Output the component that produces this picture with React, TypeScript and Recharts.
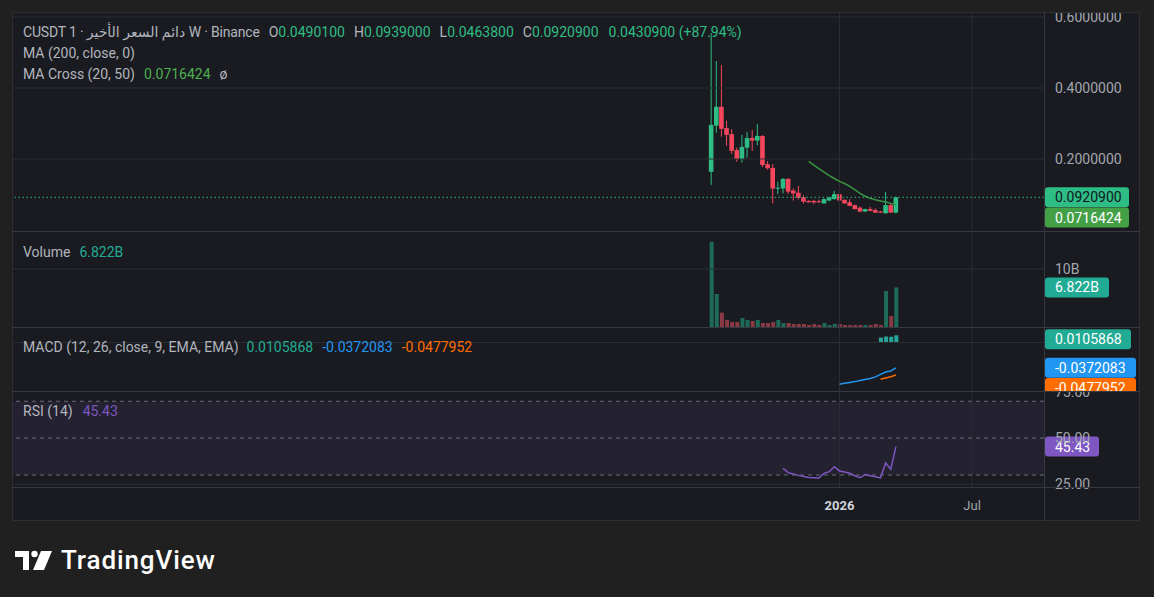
import React from 'react';
import { ComposedChart, Bar, Line, XAxis, YAxis, ReferenceLine, ReferenceArea } from 'recharts';

const FONT = 'Roboto, "DejaVu Sans", sans-serif';
const PAGE_BG = '#202020';
const PANEL_BG = '#1a1b20';
const GRID = '#2c2e35';
const SEP = '#363941';
const TEXT = '#b2b5be';
const AXIS_TEXT = '#a3a6af';
const UP = '#2ebd85';
const DOWN = '#f6465d';
const VOL_UP = '#1e6b5a';
const VOL_DOWN = '#8a3a45';
const MA_COLOR = '#3a9442';
const MACD_COLOR = '#2196f3';
const SIGNAL_COLOR = '#ff6d00';
const HIST_UP = '#26a69a';
const HIST_FADE = '#b2dfdb';
const RSI_COLOR = '#7e57c2';

// weekly candles, first bar = week of 2025-07-10
const opens = [0.164, 0.294, 0.347, 0.287, 0.270, 0.225, 0.200, 0.232, 0.259, 0.252, 0.265, 0.185, 0.175, 0.117, 0.117, 0.144, 0.111, 0.105, 0.092, 0.082, 0.082, 0.081, 0.075, 0.083, 0.087, 0.101, 0.085, 0.078, 0.070, 0.063, 0.052, 0.059, 0.056, 0.052, 0.047, 0.070, 0.04901];
const highs = [0.555, 0.476, 0.465, 0.308, 0.284, 0.232, 0.268, 0.276, 0.282, 0.299, 0.267, 0.194, 0.186, 0.136, 0.146, 0.146, 0.117, 0.124, 0.098, 0.084, 0.085, 0.085, 0.089, 0.094, 0.110, 0.103, 0.086, 0.087, 0.071, 0.066, 0.060, 0.065, 0.061, 0.054, 0.107, 0.075, 0.0939];
const lows = [0.127, 0.274, 0.263, 0.237, 0.214, 0.192, 0.190, 0.204, 0.223, 0.239, 0.177, 0.170, 0.075, 0.101, 0.103, 0.101, 0.083, 0.086, 0.075, 0.078, 0.073, 0.077, 0.074, 0.081, 0.086, 0.082, 0.074, 0.067, 0.058, 0.050, 0.051, 0.053, 0.048, 0.048, 0.046, 0.048, 0.04638];
const closes = [0.296, 0.347, 0.285, 0.268, 0.223, 0.200, 0.234, 0.259, 0.252, 0.265, 0.183, 0.174, 0.117, 0.119, 0.144, 0.108, 0.103, 0.091, 0.080, 0.078, 0.078, 0.078, 0.087, 0.091, 0.101, 0.083, 0.075, 0.068, 0.059, 0.052, 0.059, 0.054, 0.049, 0.049, 0.070, 0.049, 0.09209];
// volume in billions
const volumes = [14.7, 5.69, 2.47, 1.21, 0.86, 0.86, 1.55, 1.21, 1.03, 1.21, 0.69, 0.69, 0.86, 1.21, 0.69, 0.69, 0.52, 0.52, 0.52, 0.34, 0.52, 0.34, 0.69, 0.34, 0.52, 0.52, 0.34, 0.34, 0.34, 0.34, 0.34, 0.34, 0.52, 0.34, 6.2, 1.9, 6.822];

// indicators, each starting at its own bar
const MA_START = 19;
const maCross = [0.193, 0.183, 0.173, 0.163, 0.153, 0.145, 0.137, 0.131, 0.123, 0.114, 0.103, 0.095, 0.089, 0.085, 0.082, 0.079, 0.075, 0.0716424];
const MACD_START = 25;
const macdLine = [-0.0615, -0.0600, -0.0588, -0.0575, -0.0560, -0.0545, -0.0530, -0.0505, -0.0468, -0.0434, -0.0418, -0.0372083];
const SIGNAL_START = 33;
const signalLine = [-0.0540, -0.0522, -0.0503, -0.0477952];
const histogram = [0.0072, 0.0088, 0.0085, 0.0105868];
const RSI_START = 14;
const rsi = [33.6, 31.3, 30.6, 29.8, 29.2, 28.6, 28.5, 28.4, 30.9, 31.8, 34.5, 32.2, 31.6, 31.0, 29.6, 28.5, 30.2, 29.6, 29.0, 28.5, 36.6, 33.1, 45.43];

const priceTicks = [0.2, 0.4, 0.6];
const volumeTicks = [10];
const rsiTicks = [25, 50, 75];

const DAY = 86400000;
const firstWeek = Date.UTC(2025, 6, 10);
const timeTicks = [
  { label: '2026', date: Date.UTC(2026, 0, 1), strong: true },
  { label: 'Jul', date: Date.UTC(2026, 6, 1), strong: false },
].map((t) => ({ ...t, pos: (t.date - firstWeek) / (7 * DAY) }));

// visible range, in bars
const X_DOMAIN: [number, number] = [-136.3, 64.87];

const at = (arr: number[], start: number, i: number) => (i >= start && i - start < arr.length ? arr[i - start] : null);

const rows = opens.map((o, i) => ({
  i,
  o,
  h: highs[i],
  l: lows[i],
  c: closes[i],
  v: volumes[i],
  ma: at(maCross, MA_START, i),
  macd: at(macdLine, MACD_START, i),
  sig: at(signalLine, SIGNAL_START, i),
  hist: at(histogram, SIGNAL_START, i),
  rsi: at(rsi, RSI_START, i),
}));

const last = rows[rows.length - 1];

const CHART_W = 1128;
const AXIS_W = 96;
const M = { top: 0, right: 0, bottom: 0, left: 0 };
const axisTick = { fill: AXIS_TEXT, fontSize: 14, fontFamily: FONT };

const Candle = (p: any) => {
  const { x, width, payload } = p;
  let { y, height } = p;
  if (height < 0) { y += height; height = -height; }
  const { o, h, l, c } = payload;
  const k = h === l ? 0 : height / (h - l);
  const py = (v: number) => y + (h - v) * k;
  const color = c >= o ? UP : DOWN;
  const cx = x + width / 2;
  const top = py(Math.max(o, c));
  const bot = py(Math.min(o, c));
  return (
    <g>
      <line x1={cx} x2={cx} y1={y} y2={y + height} stroke={color} strokeWidth={1} />
      <rect x={cx - 2.3} y={top} width={4.6} height={Math.max(1, bot - top)} fill={color} />
    </g>
  );
};

const VolumeBar = (p: any) => {
  const { x, y, width, height, payload } = p;
  if (!height) return null;
  return <rect x={x} y={y} width={width} height={height} fill={payload.c >= payload.o ? VOL_UP : VOL_DOWN} />;
};

const HistBar = (p: any) => {
  const { x, y, width, height, payload, index } = p;
  if (payload.hist == null || !height) return null;
  const prev = index > 0 ? rows[index - 1].hist : null;
  const fill = prev != null && payload.hist < prev ? HIST_FADE : HIST_UP;
  return <rect x={x} y={height < 0 ? y + height : y} width={width} height={Math.abs(height)} fill={fill} />;
};

const Tag = ({ viewBox, text, bg, fg = '#ffffff', dy = 0, w }: any) => {
  if (!viewBox) return null;
  const x = viewBox.x + viewBox.width;
  const y = viewBox.y + dy;
  return (
    <g>
      <rect x={x + 1} y={y - 10} width={w} height={20} rx={3} fill={bg} />
      <text x={x + 11} y={y} dy="0.36em" fill={fg} fontSize={14} fontFamily={FONT}>{text}</text>
    </g>
  );
};

const TimeTick = (p: any) => {
  const { x, y, payload } = p;
  const t = timeTicks.find((tt) => Math.abs(tt.pos - payload.value) < 1e-6);
  if (!t) return null;
  return (
    <text x={x} y={y} dy={10.5} textAnchor="middle" fontSize={13} fontFamily={FONT}
      fontWeight={t.strong ? 700 : 400} fill={t.strong ? '#d1d4dc' : AXIS_TEXT}>
      {t.label}
    </text>
  );
};

const hiddenX = (
  <XAxis dataKey="i" type="number" domain={X_DOMAIN} allowDataOverflow hide />
);

const vGrid = () => timeTicks.map((t) => <ReferenceLine key={t.label} x={t.pos} stroke={GRID} />);

const legendRow: React.CSSProperties = {
  position: 'absolute', left: 11, height: 20, lineHeight: '20px', fontSize: 14,
  fontFamily: FONT, color: TEXT, whiteSpace: 'nowrap', display: 'flex',
};

const App = () => {
  return (
    <div style={{ position: 'fixed', inset: 0, background: PAGE_BG, overflow: 'hidden' }}>
      <div style={{ position: 'absolute', left: 12, top: 12, width: CHART_W, height: 509, background: PANEL_BG, boxShadow: 'inset 0 0 0 1px #2c2e34' }}>
        {/* price pane */}
        <div style={{ position: 'absolute', left: 0, top: 1, width: CHART_W, height: 217, overflow: 'hidden' }}>
          <ComposedChart width={CHART_W} height={217} data={rows} margin={M}>
            {hiddenX}
            <YAxis orientation="right" width={AXIS_W} domain={[0, 0.6113]} allowDataOverflow ticks={priceTicks} interval={0}
              tickFormatter={(v: number) => v.toFixed(7)} axisLine={false} tickLine={false} tickSize={6} tickMargin={5} tick={axisTick} />
            {priceTicks.map((t) => <ReferenceLine key={t} y={t} stroke={GRID} />)}
            {vGrid()}
            <Bar dataKey={(d: any) => [d.l, d.h]} barSize={5} shape={(p: any) => <Candle {...p} />} isAnimationActive={false} />
            <Line dataKey="ma" stroke={MA_COLOR} strokeWidth={1.5} dot={false} activeDot={false} isAnimationActive={false} />
            <ReferenceLine y={last.c} stroke={UP} strokeDasharray="1.5 2.5"
              label={(p: any) => <Tag viewBox={p.viewBox} text={last.c.toFixed(7)} bg={UP} fg="#131722" w={84} />} />
            <ReferenceLine y={maCross[maCross.length - 1]} stroke="none"
              label={(p: any) => <Tag viewBox={p.viewBox} text={maCross[maCross.length - 1].toFixed(7)} bg="#43a047" dy={13} w={84} />} />
          </ComposedChart>
        </div>

        {/* volume pane */}
        <div style={{ position: 'absolute', left: 0, top: 220, width: CHART_W, height: 95, overflow: 'hidden' }}>
          <ComposedChart width={CHART_W} height={95} data={rows} margin={M}>
            {hiddenX}
            <YAxis orientation="right" width={AXIS_W} domain={[0, 16.38]} allowDataOverflow ticks={volumeTicks} interval={0}
              tickFormatter={(v: number) => `${v}B`} axisLine={false} tickLine={false} tickSize={6} tickMargin={5} tick={axisTick} />
            {volumeTicks.map((t) => <ReferenceLine key={t} y={t} stroke={GRID} />)}
            {vGrid()}
            <Bar dataKey="v" barSize={4} shape={(p: any) => <VolumeBar {...p} />} isAnimationActive={false} />
            <ReferenceLine y={last.v} stroke="none"
              label={(p: any) => <Tag viewBox={p.viewBox} text={`${last.v.toFixed(3)}B`} bg="#22ab94" w={64} />} />
          </ComposedChart>
        </div>

        {/* MACD pane */}
        <div style={{ position: 'absolute', left: 0, top: 316, width: CHART_W, height: 63, overflow: 'hidden' }}>
          <ComposedChart width={CHART_W} height={63} data={rows} margin={M}>
            {hiddenX}
            <YAxis orientation="right" width={AXIS_W} domain={[-0.0713, 0.0213]} allowDataOverflow tick={false} axisLine={false} tickLine={false} />
            <ReferenceLine y={0} stroke={GRID} />
            {vGrid()}
            <Bar dataKey="hist" barSize={4} shape={(p: any) => <HistBar {...p} />} isAnimationActive={false} />
            <Line dataKey="macd" stroke={MACD_COLOR} strokeWidth={1.5} dot={false} activeDot={false} isAnimationActive={false} />
            <Line dataKey="sig" stroke={SIGNAL_COLOR} strokeWidth={1.5} dot={false} activeDot={false} isAnimationActive={false} />
            <ReferenceLine y={last.hist as number} stroke="none"
              label={(p: any) => <Tag viewBox={p.viewBox} text={(last.hist as number).toFixed(7)} bg="#22ab94" dy={4} w={86} />} />
            <ReferenceLine y={last.macd as number} stroke="none"
              label={(p: any) => <Tag viewBox={p.viewBox} text={(last.macd as number).toFixed(7)} bg={MACD_COLOR} w={91} />} />
            <ReferenceLine y={last.sig as number} stroke="none"
              label={(p: any) => <Tag viewBox={p.viewBox} text={(last.sig as number).toFixed(7)} bg={SIGNAL_COLOR} dy={13} w={91} />} />
          </ComposedChart>
        </div>

        {/* RSI pane + time axis */}
        <div style={{ position: 'absolute', left: 0, top: 380, width: CHART_W, height: 129, overflow: 'hidden' }}>
          <ComposedChart width={CHART_W} height={129} data={rows} margin={M}>
            <XAxis dataKey="i" type="number" domain={X_DOMAIN} allowDataOverflow ticks={timeTicks.map((t) => t.pos)} interval={0}
              height={34} axisLine={false} tickLine={false} tickSize={6} tickMargin={6} tick={(p: any) => <TimeTick {...p} />} />
            <YAxis orientation="right" width={AXIS_W} domain={[23.5, 75]} allowDataOverflow ticks={rsiTicks} interval={0}
              tickFormatter={(v: number) => v.toFixed(2)} axisLine={false} tickLine={false} tickSize={6} tickMargin={5} tick={axisTick} />
            <ReferenceArea y1={30} y2={70} fill={RSI_COLOR} fillOpacity={0.1} stroke="none" />
            <ReferenceLine y={25} stroke={GRID} />
            {vGrid()}
            {[70, 50, 30].map((t) => <ReferenceLine key={t} y={t} stroke="#6b6e78" strokeDasharray="4 4" />)}
            <Line dataKey="rsi" stroke={RSI_COLOR} strokeWidth={1.5} dot={false} activeDot={false} isAnimationActive={false} />
            <ReferenceLine y={last.rsi as number} stroke="none"
              label={(p: any) => <Tag viewBox={p.viewBox} text={(last.rsi as number).toFixed(2)} bg={RSI_COLOR} w={54} />} />
          </ComposedChart>
        </div>

        {/* pane separators */}
        {[219, 315, 379, 475].map((t) => (
          <div key={t} style={{ position: 'absolute', left: 0, top: t, width: CHART_W, height: 1, background: SEP }} />
        ))}
        <div style={{ position: 'absolute', left: CHART_W - AXIS_W, top: 0, width: 1, height: 509, background: SEP }} />

        {/* legends */}
        <div style={{ ...legendRow, top: 10 }}>
          <span style={{ letterSpacing: -0.18 }}>CUSDT 1 · دائم السعر الأخير W · Binance</span>
          <span style={{ marginLeft: 9 }}>O<span style={{ color: UP }}>{opens[opens.length - 1].toFixed(7)}</span></span>
          <span style={{ marginLeft: 9 }}>H<span style={{ color: UP }}>{highs[highs.length - 1].toFixed(7)}</span></span>
          <span style={{ marginLeft: 9 }}>L<span style={{ color: UP }}>{lows[lows.length - 1].toFixed(7)}</span></span>
          <span style={{ marginLeft: 9 }}>C<span style={{ color: UP }}>{closes[closes.length - 1].toFixed(7)}</span></span>
          <span style={{ marginLeft: 10, color: UP }}>0.0430900 (+87.94%)</span>
        </div>
        <div style={{ ...legendRow, top: 31 }}>MA (200, close, 0)</div>
        <div style={{ ...legendRow, top: 52 }}>
          <span>MA Cross (20, 50)</span>
          <span style={{ marginLeft: 9, color: '#4caf50' }}>{maCross[maCross.length - 1].toFixed(7)}</span>
          <span style={{ marginLeft: 9 }}>ø</span>
        </div>
        <div style={{ ...legendRow, top: 230 }}>
          <span>Volume</span>
          <span style={{ marginLeft: 9, color: '#22ab94' }}>{last.v.toFixed(3)}B</span>
        </div>
        <div style={{ ...legendRow, top: 325 }}>
          <span>MACD (12, 26, close, 9, EMA, EMA)</span>
          <span style={{ marginLeft: 8, color: '#22ab94' }}>{(last.hist as number).toFixed(7)}</span>
          <span style={{ marginLeft: 9, color: MACD_COLOR }}>{(last.macd as number).toFixed(7)}</span>
          <span style={{ marginLeft: 9, color: SIGNAL_COLOR }}>{(last.sig as number).toFixed(7)}</span>
        </div>
        <div style={{ ...legendRow, top: 389 }}>
          <span>RSI (14)</span>
          <span style={{ marginLeft: 10, color: RSI_COLOR }}>{(last.rsi as number).toFixed(2)}</span>
        </div>
      </div>

      {/* footer logo */}
      <div style={{ position: 'absolute', left: 15, top: 545, display: 'flex', alignItems: 'center', color: '#ffffff' }}>
        <svg width={38} height={22} viewBox="0 0 38 22">
          <path d="M0 2 H14 V21 H8 V8 H0 Z" fill="#ffffff" />
          <circle cx={19.5} cy={5} r={3.2} fill="#ffffff" />
          <path d="M26 2 H37 L29 21 H18 Z" fill="#ffffff" />
        </svg>
        <span style={{ marginLeft: 8, fontFamily: FONT, fontSize: 26, fontWeight: 500, letterSpacing: 0.9 }}>TradingView</span>
      </div>
    </div>
  );
};

export default App;
